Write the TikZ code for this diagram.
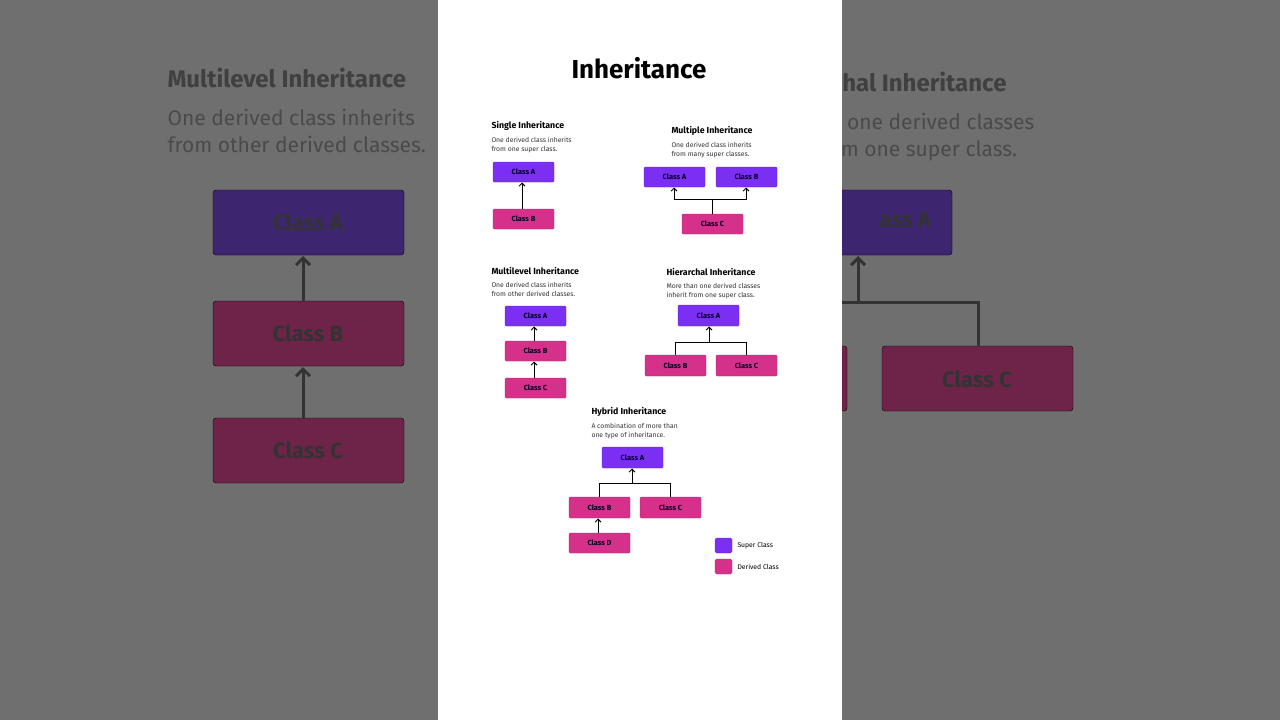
\documentclass[tikz,border=0pt]{standalone}
\usepackage{fontspec}
\setmainfont{Fira Sans}
\begin{document}
\begin{tikzpicture}[x=1pt,y=-1pt,
  sup/.style={fill=supc,draw=supc!80!black,line width=0.3pt,rounded corners=1pt},
  der/.style={fill=derc,draw=derc!80!black,line width=0.3pt,rounded corners=1pt},
  lbl/.style={font=\fontsize{7.4}{8}\selectfont\bfseries,text=black!85!blue},
  ttl/.style={anchor=west,font=\fontsize{8.8}{10}\selectfont\bfseries},
  dsc/.style={anchor=north west,align=left,font=\fontsize{6.8}{8.8}\selectfont,text=black!80},
  ln/.style={line width=0.9pt},
  ar/.style={line width=0.9pt,->,>={Straight Barb[length=3pt,width=6pt]}},
  bsup/.style={fill=bsupc,rounded corners=3pt},
  bder/.style={fill=bderc,rounded corners=3pt},
  blbl/.style={font=\fontsize{22}{24}\selectfont\bfseries,text=black!80},
  bln/.style={line width=3pt,draw=black!80},
]
\usetikzlibrary{arrows.meta}
\definecolor{supc}{HTML}{7B2FF2}
\definecolor{derc}{HTML}{D6318A}
\definecolor{bsupc}{HTML}{3E2570}
\definecolor{bderc}{HTML}{6E2448}
\definecolor{bg}{HTML}{6F6F6F}
\definecolor{bdsc}{HTML}{4A4A4A}
\useasboundingbox (0,0) rectangle (1280,720);
\fill[bg] (0,0) rectangle (1280,720);
% ---- blurred left background
\begin{scope}
\clip (0,0) rectangle (438,720);
\node[anchor=west,font=\fontsize{24}{28}\selectfont\bfseries,text=black!75] (bt) at (164,78) {Multilevel Inheritance};
\node[anchor=north west,align=left,font=\fontsize{21}{27}\selectfont,text=bdsc] (bd) at (164,106) {One derived class inherits\\from other derived classes.};
\end{scope}
\draw[bsup] (213,190) rectangle (404,255); \node[blbl] (ba) at (308,222) {Class A};
\draw[bder] (213,301) rectangle (404,366); \node[blbl] (bb) at (308,333) {Class B};
\draw[bder] (213,418) rectangle (404,483); \node[blbl] (bc) at (308,450) {Class C};
\draw[bln,->,>={Straight Barb[length=7pt,width=14pt]}] (303,301) -- (303,256);
\draw[bln,->,>={Straight Barb[length=7pt,width=14pt]}] (303,418) -- (303,367);
% ---- blurred right background
\begin{scope}
\clip (842,0) rectangle (1280,720);
\node[anchor=east,font=\fontsize{24}{28}\selectfont\bfseries,text=black!75] (rt) at (1010,82) {Hierarchal Inheritance};
\node[anchor=north east,align=left,font=\fontsize{21}{27}\selectfont,text=bdsc] (rd) at (1038,110) {More than one derived classes\\inherit from one super class.};
\draw[bsup] (700,190) rectangle (952,255); \node[blbl] at (905,220) {ass A};
\draw[bder] (700,346) rectangle (847,411);
\draw[bln] (820,302) -- (858,302);
\end{scope}
\draw[bder] (882,346) rectangle (1073,411); \node[blbl] (rc) at (977,379) {Class C};
\draw[bln] (842,302) -- (978,302) -- (978,346);
\draw[bln,->,>={Straight Barb[length=7pt,width=14pt]}] (858,302) -- (858,256);
% ---- white panel
\fill[white] (438,0) rectangle (842,720);
\node[font=\fontsize{26}{30}\selectfont\bfseries] (title) at (639,68) {Inheritance};
% Single
\node[ttl] (t1) at (488,126) {Single Inheritance};
\node[dsc] (d1) at (488,134) {One derived class inherits\\from one super class.};
\draw[sup] (493,162) rectangle (554,182); \node[lbl] (sa) at (523.5,172) {Class A};
\draw[der] (493,209) rectangle (554,229); \node[lbl] (sb) at (523.5,219) {Class B};
\draw[ar] (522,209) -- (522,182.5);
% Multiple
\node[ttl] (t2) at (668,131) {Multiple Inheritance};
\node[dsc] (d2) at (668,139) {One derived class inherits\\from many super classes.};
\draw[sup] (644,167) rectangle (705,187); \node[lbl] (ma) at (674.5,177) {Class A};
\draw[sup] (716,167) rectangle (777,187); \node[lbl] (mb) at (746.5,177) {Class B};
\draw[der] (682,214) rectangle (743,234); \node[lbl] (mc) at (712.5,224) {Class C};
\draw[ln] (712,214) -- (712,199);
\draw[ar] (674,199.5) -- (674,187.5);
\draw[ar] (746,199.5) -- (746,187.5);
\draw[ln] (674,199.5) -- (746,199.5);
% Multilevel
\node[ttl] (t3) at (488,271) {Multilevel Inheritance};
\node[dsc] (d3) at (488,279) {One derived class inherits\\from other derived classes.};
\draw[sup] (505,306) rectangle (566,326); \node[lbl] (la) at (535.5,316) {Class A};
\draw[der] (505,341) rectangle (566,361); \node[lbl] (lb) at (535.5,351) {Class B};
\draw[der] (505,378) rectangle (566,398); \node[lbl] (lc) at (535.5,388) {Class C};
\draw[ar] (534,341) -- (534,326.5);
\draw[ar] (534,378) -- (534,361.5);
% Hierarchal
\node[ttl] (t4) at (663,272) {Hierarchal Inheritance};
\node[dsc] (d4) at (663,280) {More than one derived classes\\inherit from one super class.};
\draw[sup] (678,305) rectangle (739,326); \node[lbl] (ha) at (708.5,315.5) {Class A};
\draw[der] (645,355) rectangle (706,376); \node[lbl] (hb) at (675.5,365.5) {Class B};
\draw[der] (716,355) rectangle (777,376); \node[lbl] (hc) at (746.5,365.5) {Class C};
\draw[ln] (675,355) -- (675,342) -- (746,342) -- (746,355);
\draw[ar] (709,342) -- (709,326.5);
% Hybrid
\node[ttl] (t5) at (588,412) {Hybrid Inheritance};
\node[dsc] (d5) at (588,420) {A combination of more than\\one type of inheritance.};
\draw[sup] (602,447) rectangle (663,468); \node[lbl] (ya) at (632.5,457.5) {Class A};
\draw[der] (569,497) rectangle (630,518); \node[lbl] (yb) at (599.5,507.5) {Class B};
\draw[der] (640,497) rectangle (701,518); \node[lbl] (yc) at (670.5,507.5) {Class C};
\draw[der] (569,533) rectangle (630,553); \node[lbl] (yd) at (599.5,543) {Class D};
\draw[ln] (599,497) -- (599,483) -- (670,483) -- (670,497);
\draw[ar] (632,483) -- (632,468.5);
\draw[ar] (598,533) -- (598,518.5);
% Legend
\draw[sup,rounded corners=1.5pt] (715,538) rectangle (732,553);
\node[anchor=west,font=\fontsize{6.8}{8}\selectfont] (ls) at (734,545.5) {Super Class};
\draw[der,rounded corners=1.5pt] (715,559) rectangle (732,574);
\node[anchor=west,font=\fontsize{6.8}{8}\selectfont] (ld) at (734,566.5) {Derived Class};
\end{tikzpicture}
\end{document}
